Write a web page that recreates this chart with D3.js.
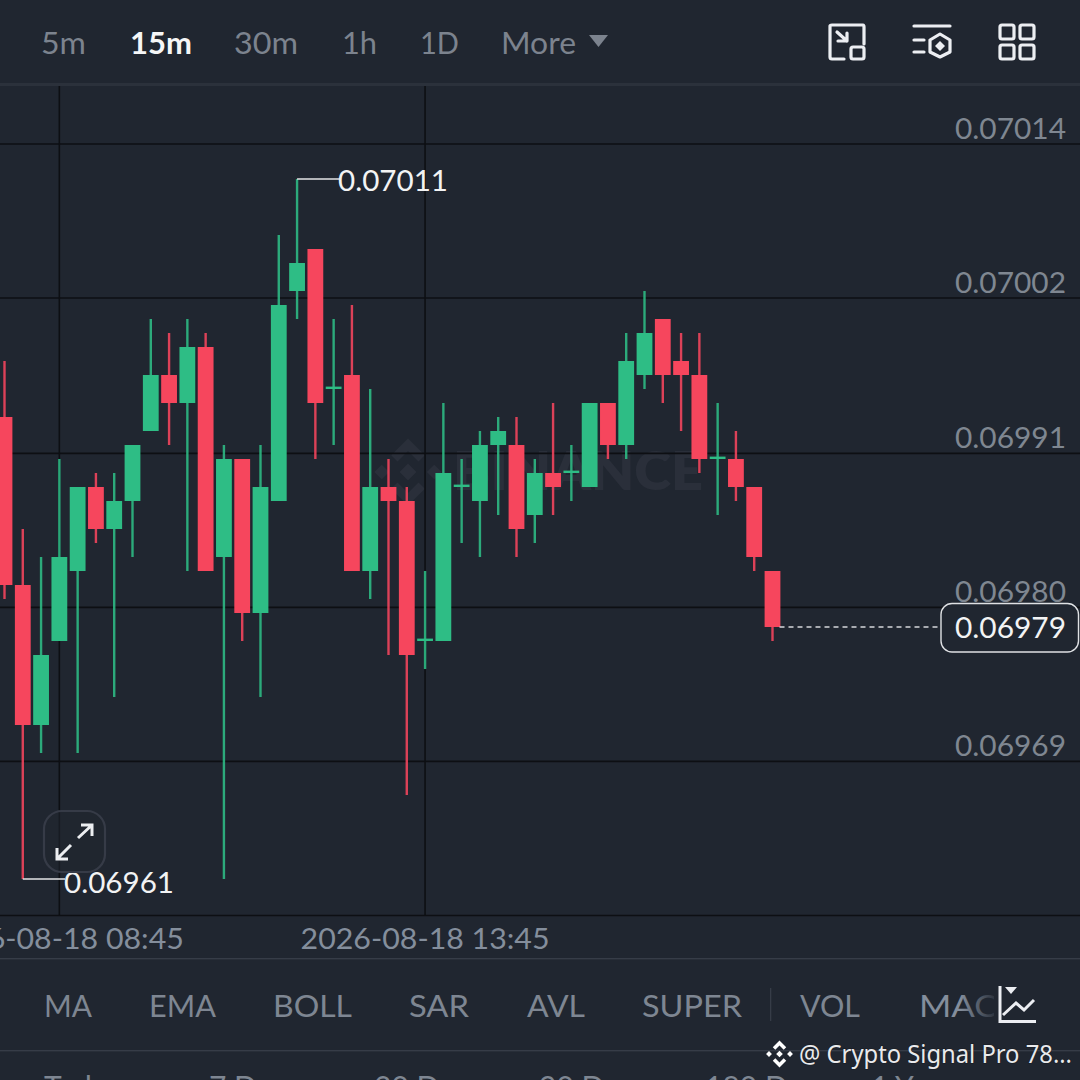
<!DOCTYPE html>
<html><head><meta charset="utf-8">
<script src="https://cdn.jsdelivr.net/npm/d3@7"></script>
<style>html,body{margin:0;padding:0;background:#202630;overflow:hidden}svg{display:block}text{font-family:Lato,"Open Sans",sans-serif}</style>
</head><body><svg id="c" width="1080" height="1080"></svg>
<script>
const times=["08:00","08:15","08:30","08:45","09:00","09:15","09:30","09:45","10:00","10:15","10:30","10:45","11:00","11:15","11:30","11:45","12:00","12:15","12:30","12:45","13:00","13:15","13:30","13:45","14:00","14:15","14:30","14:45","15:00","15:15","15:30","15:45","16:00","16:15","16:30","16:45","17:00","17:15","17:30","17:45","18:00","18:15","18:30"];
const opens=[.06994,.06982,.06972,.06978,.06983,.06989,.06986,.06988,.06993,.06997,.06995,.06999,.06984,.06991,.06980,.06988,.07003,.07006,.06996,.06997,.06983,.06989,.06988,.06978,.06978,.06989,.06988,.06992,.06992,.06987,.06990,.06990,.06989,.06995,.06992,.06997,.07001,.06998,.06997,.06991,.06991,.06989,.06983];
const highs=[.06998,.06986,.06984,.06991,.06989,.06990,.06990,.06992,.07001,.07000,.07001,.07000,.06992,.06991,.06992,.07007,.07011,.07006,.07001,.07002,.06996,.06991,.06989,.06983,.06995,.06991,.06993,.06994,.06994,.06991,.06995,.06992,.06995,.06995,.07000,.07003,.07001,.07000,.07000,.06995,.06993,.06989,.06983];
const lows=[.06981,.06961,.06970,.06978,.06970,.06985,.06974,.06984,.06993,.06992,.06983,.06983,.06961,.06978,.06974,.06988,.07001,.06991,.06992,.06983,.06981,.06977,.06967,.06976,.06978,.06985,.06984,.06987,.06984,.06985,.06987,.06988,.06989,.06991,.06991,.06996,.06995,.06993,.06990,.06987,.06988,.06983,.06978];
const closes=[.06982,.06972,.06977,.06984,.06989,.06986,.06988,.06992,.06997,.06995,.06999,.06983,.06991,.06980,.06989,.07002,.07005,.06995,.06996,.06983,.06989,.06988,.06977,.06978,.06990,.06989,.06992,.06993,.06986,.06990,.06989,.06990,.06995,.06992,.06998,.07000,.06997,.06997,.06991,.06991,.06989,.06984,.06979];
const gridPrices=[.070135,.070025,.069914,.069804,.069694];
const priceLabels=["0.07014","0.07002","0.06991","0.06980","0.06969"];
const timeTicks=["08:45","13:45"];
const timeLabels=["2026-08-18 08:45","2026-08-18 13:45"];
const intervals=["5m","15m","30m","1h","1D","More"];
const indicators=["MA","EMA","BOLL","SAR","AVL","SUPER","VOL","MACD"];
const ranges=["Today","7 Days","30 Days","90 Days","180 Days","1 Year"];
const lastPrice=.06979, maxPrice=.07011, minPrice=.06961;

const GREEN="#2EBD85",RED="#F6465D",BG="#202630",GRID="#0d0f13",MUTED="#848e9c";
const svg=d3.select("#c");
const parse=d3.timeParse("%H:%M");
const x=d3.scaleTime().domain([parse("08:00"),parse("18:30")]).range([4.5,772.5]);
const y=d3.scaleLinear().domain([lastPrice,maxPrice]).range([627,179]);

svg.append("rect").attr("width",1080).attr("height",1080).attr("fill",BG);

function logo(g,cx,cy,s,fill){
  const d=(x0,y0,r)=>`M${cx+x0*s},${cy+y0*s-r*s}L${cx+x0*s+r*s},${cy+y0*s}L${cx+x0*s},${cy+y0*s+r*s}L${cx+x0*s-r*s},${cy+y0*s}Z`;
  const chev=(sx,sy)=>`M${cx},${cy+sy*32*s}L${cx+sx*16*s},${cy+sy*16*s}L${cx+sx*10*s},${cy+sy*10*s}L${cx},${cy+sy*20*s}L${cx-sx*10*s},${cy+sy*10*s}L${cx-sx*16*s},${cy+sy*16*s}Z`;
  g.append("path").attr("fill",fill).attr("d",[d(0,0,8),d(-25,0,7),d(25,0,7),chev(1,-1),chev(1,1)].join(""));
}

// watermark
const wm=svg.append("g");
logo(wm,408,472,1.05,"#2a2f3a");
wm.append("text").attr("x",453).attr("y",490).attr("textLength",250).attr("lengthAdjust","spacingAndGlyphs")
  .attr("font-size",52).attr("font-weight",800).attr("fill","#2a2f3a").text("BINANCE");

// grid
svg.append("g").selectAll("line").data(gridPrices).join("line")
  .attr("x1",0).attr("x2",1080).attr("y1",d=>y(d)).attr("y2",d=>y(d)).attr("stroke",GRID).attr("stroke-width",1.6);
svg.append("g").selectAll("line").data(timeTicks).join("line")
  .attr("x1",d=>x(parse(d))).attr("x2",d=>x(parse(d))).attr("y1",86).attr("y2",916).attr("stroke",GRID).attr("stroke-width",1.6);
svg.append("line").attr("x1",0).attr("x2",1080).attr("y1",915.5).attr("y2",915.5).attr("stroke",GRID).attr("stroke-width",1.6);

// candles
const candles=times.map((t,i)=>({t:parse(t),o:opens[i],h:highs[i],l:lows[i],c:closes[i]}));
const col=d=>d.c>=d.o?GREEN:RED;
const cg=svg.append("g");
cg.selectAll("line").data(candles).join("line")
  .attr("x1",d=>x(d.t)).attr("x2",d=>x(d.t)).attr("y1",d=>y(d.h)).attr("y2",d=>y(d.l))
  .attr("stroke",col).attr("stroke-width",2.4).attr("stroke-opacity",.88);
cg.selectAll("rect").data(candles).join("rect")
  .attr("x",d=>x(d.t)-7.9).attr("width",15.8)
  .attr("y",d=>d.c===d.o?y(d.c)-2.4:y(Math.max(d.o,d.c)))
  .attr("height",d=>d.c===d.o?2.4:Math.abs(y(d.o)-y(d.c)))
  .attr("fill",col);

// price labels
svg.append("g").selectAll("text").data(gridPrices).join("text")
  .attr("x",955).attr("y",d=>y(d)-5.5).attr("textLength",111).attr("lengthAdjust","spacingAndGlyphs")
  .attr("font-size",29).attr("fill","#7f8791").text((d,i)=>priceLabels[i]);

// time labels
svg.append("g").selectAll("text").data(timeTicks).join("text")
  .attr("x",d=>x(parse(d))).attr("y",949).attr("text-anchor","middle").attr("textLength",249).attr("lengthAdjust","spacingAndGlyphs")
  .attr("font-size",29).attr("fill",MUTED).text((d,i)=>timeLabels[i]);

// last price
svg.append("line").attr("x1",x(parse(times[42]))+7).attr("x2",941).attr("y1",y(lastPrice)).attr("y2",y(lastPrice))
  .attr("stroke","#d5d7da").attr("stroke-width",1.5).attr("stroke-dasharray","5 4");
svg.append("rect").attr("x",941).attr("y",603.5).attr("width",137.5).attr("height",48.5).attr("rx",11)
  .attr("fill",BG).attr("stroke","#dfe1e4").attr("stroke-width",1.4);
svg.append("text").attr("x",955).attr("y",638).attr("textLength",111).attr("lengthAdjust","spacingAndGlyphs")
  .attr("font-size",29).attr("fill","#f2f3f4").text(d3.format(".5f")(lastPrice));

// max/min callouts
const iMax=highs.indexOf(maxPrice), iMin=lows.indexOf(minPrice);
const ann=svg.append("g");
ann.append("line").attr("x1",x(parse(times[iMax]))).attr("x2",340).attr("y1",y(maxPrice)).attr("y2",y(maxPrice)).attr("stroke","#e3e4e6").attr("stroke-width",1.4);
ann.append("text").attr("x",338).attr("y",190.5).attr("textLength",110).attr("lengthAdjust","spacingAndGlyphs").attr("font-size",29).attr("fill","#f2f3f4").text(d3.format(".5f")(maxPrice));
ann.append("line").attr("x1",x(parse(times[iMin]))).attr("x2",65).attr("y1",y(minPrice)).attr("y2",y(minPrice)).attr("stroke","#e3e4e6").attr("stroke-width",1.4);
ann.append("text").attr("x",64).attr("y",892.5).attr("textLength",110).attr("lengthAdjust","spacingAndGlyphs").attr("font-size",29).attr("fill","#f2f3f4").text(d3.format(".5f")(minPrice));

// expand button
const eb=svg.append("g");
eb.append("rect").attr("x",44).attr("y",811).attr("width",61).attr("height",61).attr("rx",18).attr("fill","#202630").attr("fill-opacity",.55).attr("stroke","#363b47").attr("stroke-width",2.2);
eb.append("path").attr("fill","none").attr("stroke","#eceef1").attr("stroke-width",3)
  .attr("d","M78,838L92,825M81,825H92V836M71,845L57,859M57,848V859H68");

// header
svg.append("rect").attr("x",0).attr("y",83).attr("width",1080).attr("height",3).attr("fill","#2b313b");
const hx=[[41,45],[130,62],[234,64],[342,35],[420,39],[501,75]];
svg.append("g").selectAll("text").data(intervals).join("text")
  .attr("x",(d,i)=>hx[i][0]).attr("y",54).attr("textLength",(d,i)=>hx[i][1]).attr("lengthAdjust","spacingAndGlyphs")
  .attr("font-size",30).attr("font-weight",(d,i)=>i===1?700:400).attr("fill",(d,i)=>i===1?"#f5f6f7":"#7c838e").text(d=>d);
svg.append("path").attr("d","M589,35H608L598.5,47Z").attr("fill","#7c838e");

// header icons
const ic=svg.append("g").attr("fill","none").attr("stroke","#eceef2").attr("stroke-width",3.2).attr("stroke-linejoin","round").attr("stroke-linecap","round");
ic.append("path").attr("d","M844,59H832Q830,59 830,57V26Q830,25 832,25H863Q864,25 864,27V44");
ic.append("path").attr("d","M837,32L847,41M847,33V41H838");
ic.append("rect").attr("x",851).attr("y",47).attr("width",13).attr("height",12).attr("rx",2);
ic.append("path").attr("d","M914,26H950M914,40H924M914,52H924");
ic.append("path").attr("d","M940,34L950,40V52L940,57L930,52V40Z");
ic.append("path").attr("d","M940,41L945,46L940,51L935,46Z").attr("fill","#eceef2").attr("stroke","none");
[[1000,25],[1020,25],[1000,45],[1020,45]].forEach(p=>ic.append("rect").attr("x",p[0]).attr("y",p[1]).attr("width",14).attr("height",14).attr("rx",2));

// dividers
svg.append("rect").attr("x",0).attr("y",958).attr("width",1080).attr("height",1.4).attr("fill","#363c47");
svg.append("rect").attr("x",0).attr("y",1050).attr("width",1080).attr("height",1.4).attr("fill","#363c47");

// indicators
const defs=svg.append("defs");
const lg=defs.append("linearGradient").attr("id","fade").attr("gradientUnits","userSpaceOnUse").attr("x1",960).attr("x2",994).attr("y1",0).attr("y2",0);
lg.append("stop").attr("offset",0).attr("stop-color","#848e9c");
lg.append("stop").attr("offset",1).attr("stop-color","#848e9c").attr("stop-opacity",.15);
defs.append("clipPath").attr("id","mc").append("rect").attr("x",0).attr("y",960).attr("width",994).attr("height",90);
const ix=[[44,48],[149,67],[273,79],[409,60],[527,58],[642,100],[800,60],[919,105]];
svg.append("g").attr("clip-path","url(#mc)").selectAll("text").data(indicators).join("text")
  .attr("x",(d,i)=>ix[i][0]).attr("y",1017).attr("textLength",(d,i)=>ix[i][1]).attr("lengthAdjust","spacingAndGlyphs")
  .attr("font-size",30).attr("fill",(d,i)=>i===7?"url(#fade)":"#7e8692").text(d=>d);
svg.append("rect").attr("x",770).attr("y",988).attr("width",1.3).attr("height",33).attr("fill","#363c47");

// chart icon
const ci=svg.append("g").attr("fill","none").attr("stroke","#eceef2").attr("stroke-width",3);
ci.append("path").attr("d","M1000,986V1021.5H1036");
ci.append("path").attr("d","M1003,1015L1016,1003L1024,1010L1034,1000");
svg.append("path").attr("d","M1005,987H1017L1011,994Z").attr("fill","#eceef2");

// ranges
const rx=[44,209,374,539,705,871];
svg.append("g").selectAll("text").data(ranges).join("text")
  .attr("x",(d,i)=>rx[i]).attr("y",1098).attr("font-size",30).attr("fill","#7e8692").text(d=>d);

// overlay handle
logo(svg.append("g"),779.5,1054,.42,"#ffffff");
svg.append("text").attr("x",799).attr("y",1063).attr("textLength",273).attr("lengthAdjust","spacingAndGlyphs")
  .attr("font-size",25).style("font-family","'Noto Sans'").attr("fill","#e9eaec")
  .style("paint-order","stroke").attr("stroke","#15181e").attr("stroke-opacity",.5).attr("stroke-width",1.5)
  .text("@ Crypto Signal Pro 78...");
</script></body></html>
